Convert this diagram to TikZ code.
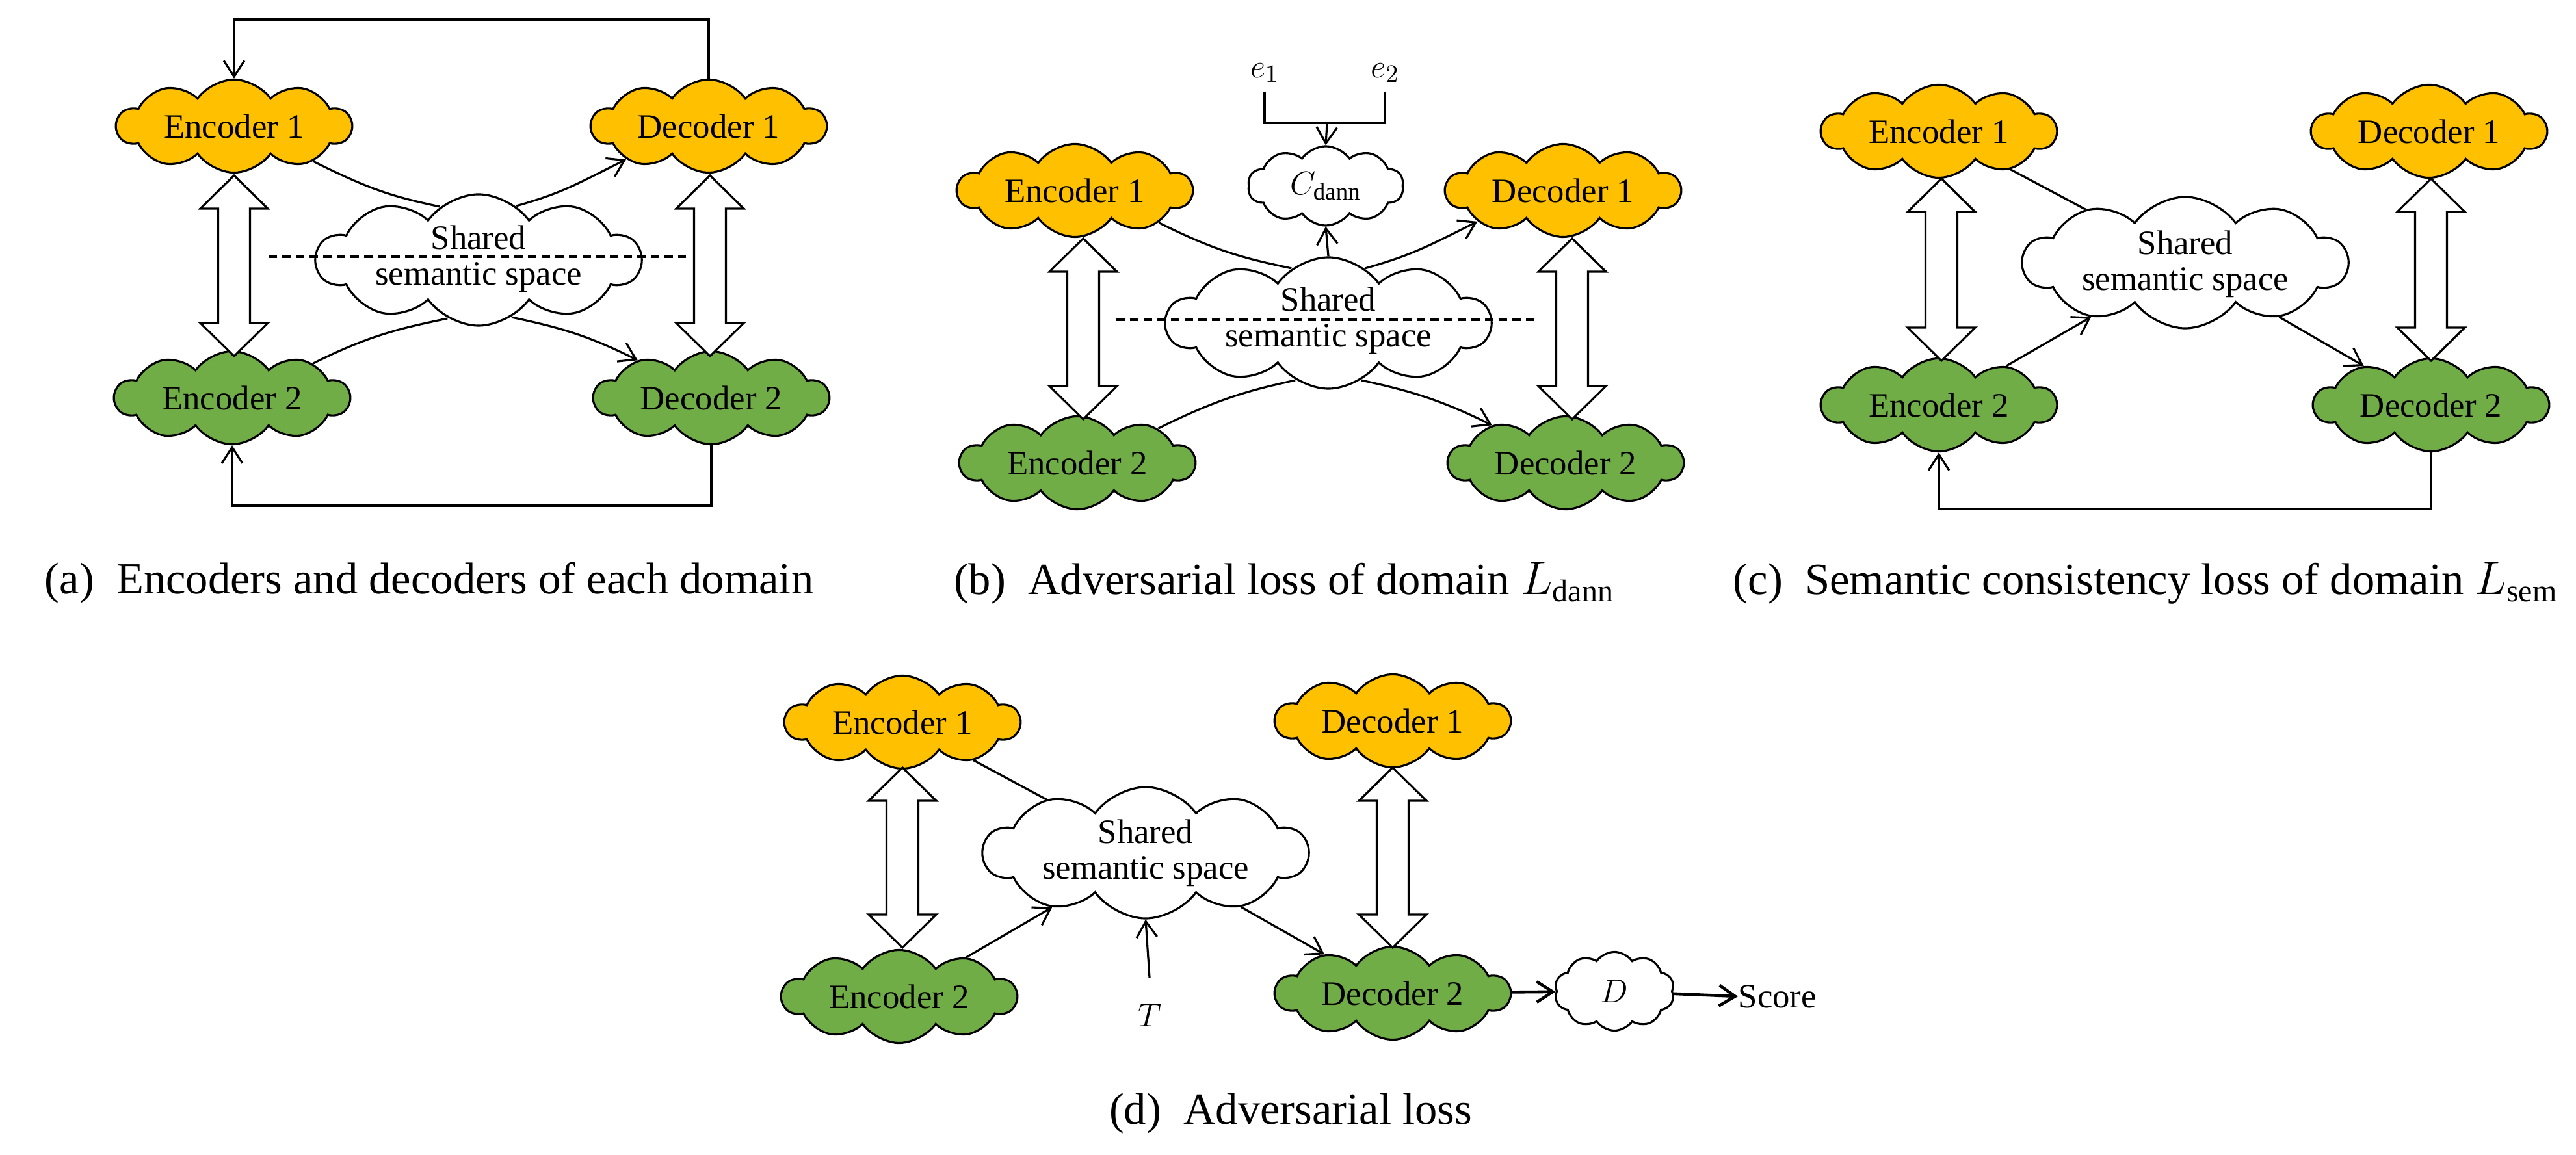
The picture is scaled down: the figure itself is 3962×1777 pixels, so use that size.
\documentclass[tikz,border=0pt]{standalone}
\usepackage{fontspec}
\setmainfont{Liberation Serif}
\usetikzlibrary{shapes.symbols,arrows.meta}
\definecolor{orgc}{HTML}{FFC000}
\definecolor{grnc}{HTML}{70AD47}
\newcommand{\dblarr}[3]{\draw[line width=0.9pt,fill=white] (#1-24.5,#2+51) -- (#1-52,#2+51) -- (#1,#2) -- (#1+52,#2+51) -- (#1+24.5,#2+51) -- (#1+24.5,#3-51) -- (#1+52,#3-51) -- (#1,#3) -- (#1-52,#3-51) -- (#1-24.5,#3-51) -- cycle;}
\begin{document}
\begin{tikzpicture}[x=0.01cm,y=-0.01cm,
  cl/.style={cloud, cloud puffs=10, cloud puff arc=110, cloud ignores aspect, draw, line width=0.9pt, inner sep=0pt},
  enc/.style={cl, fill=orgc, minimum width=3.6cm, minimum height=1.43cm},
  gen/.style={cl, fill=grnc, minimum width=3.6cm, minimum height=1.43cm},
  sh/.style={cl, fill=white, minimum width=4.98cm, minimum height=2.02cm},
  lab/.style={font=\fontsize{15}{18}\selectfont, align=center},
  ln/.style={line width=0.9pt},
  ar/.style={line width=0.9pt, -{Straight Barb[length=7pt,width=9pt]}},
  dsh/.style={line width=0.9pt, dash pattern=on 0.13cm off 0.08cm},
  capt/.style={font=\fontsize{19.5}{22}\selectfont, inner sep=0pt}]
\useasboundingbox (0,0) rectangle (3962,1777);
% ---------------- (a)
\node[enc] (a1) at (360,194) {};
\node[enc] (a2) at (1090,194) {};
\node[gen] (a3) at (357,612) {};
\node[gen] (a4) at (1094,612) {};
\node[sh] (as) at (736,400) {};
\node[lab] at (a1) {Encoder 1};
\node[lab] at (a2) {Decoder 1};
\node[lab] at (a3) {Encoder 2};
\node[lab] at (a4) {Decoder 2};
\node[lab] at (736,365) {Shared};
\node[lab] at (736,427) {semantic space};
\draw[dsh] (413,395) -- (1055,395);
\draw[ln] (a1.-24) .. controls +(90,45) and +(-70,-15) .. (as.126);
\draw[ar] (as.55) .. controls +(70,-20) and +(-80,40) .. (a2.202);
\draw[ln] (a3.23) .. controls +(90,-45) and +(-70,15) .. (as.-118);
\draw[ar] (as.-60) .. controls +(70,15) and +(-80,-40) .. (a4.153);
\coordinate (at) at (700,30);
\coordinate (ab) at (700,778);
\draw[ar] (a2.north) |- (at) -| (a1.north);
\draw[ar] (a4.south) |- (ab) -| (a3.south);
\dblarr{360}{270}{548}
\dblarr{1092}{270}{548}
\node[capt] (capa) at (660,897) {(a)\ \ Encoders and decoders of each domain};
% ---------------- (b)
\node[enc] (b1) at (1653,293) {};
\node[enc] (b2) at (2404,293) {};
\node[gen] (b3) at (1657,712) {};
\node[gen] (b4) at (2408,712) {};
\node[sh] (bs) at (2043,497) {};
\node[cl, fill=white, minimum width=2.39cm, minimum height=1.22cm] (bc) at (2039,286) {};
\node[lab] at (b1) {Encoder 1};
\node[lab] at (b2) {Decoder 1};
\node[lab] at (b3) {Encoder 2};
\node[lab] at (b4) {Decoder 2};
\node[lab] at (bc) {$C_{\mathrm{dann}}$};
\node[lab] at (2043,460) {Shared};
\node[lab] at (2043,522) {semantic space};
\draw[dsh] (1717,492) -- (2362,492);
\draw[ln] (b1.-21) .. controls +(90,45) and +(-70,-15) .. (bs.124);
\draw[ar] (bs.56) .. controls +(70,-20) and +(-80,40) .. (b2.200);
\draw[ln] (b3.23) .. controls +(90,-45) and +(-70,15) .. (bs.-120);
\draw[ar] (bs.-60) .. controls +(70,15) and +(-80,-40) .. (b4.153);
\draw[ar] (bs.north) -- (bc.south);
\node[lab, inner sep=0pt] (e1) at (1945,112) {$e_1$};
\node[lab, inner sep=0pt] (e2) at (2130,112) {$e_2$};
\coordinate (bm) at (2041,189);
\draw[ln] ([yshift=-0.15cm]e1.south) |- (bm) -| ([yshift=-0.15cm]e2.south);
\draw[ar] (bm) -- (bc.north);
\dblarr{1666}{367}{645}
\dblarr{2418}{367}{645}
\node[capt] (capb) at (1975,897) {(b)\ \ Adversarial loss of domain $L_{\mathrm{dann}}$};
% ---------------- (c)
\node[enc] (c1) at (2982,202) {};
\node[enc] (c2) at (3736,202) {};
\node[gen] (c3) at (2982,623) {};
\node[gen] (c4) at (3739,623) {};
\node[sh] (cs) at (3361,404) {};
\node[lab] at (c1) {Encoder 1};
\node[lab] at (c2) {Decoder 1};
\node[lab] at (c3) {Encoder 2};
\node[lab] at (c4) {Decoder 2};
\node[lab] at (3361,373) {Shared};
\node[lab] at (3361,435) {semantic space};
\draw[ln] (c1) -- (cs);
\draw[ar] (c3) -- (cs);
\draw[ar] (cs) -- (c4);
\coordinate (cb) at (3360,783);
\draw[ar] (c4.south) |- (cb) -| (c3.south);
\dblarr{2986}{275}{555}
\dblarr{3739}{275}{555}
\node[capt, anchor=east] (capc) at (3935,897) {(c)\ \ Semantic consistency loss of domain $L_{\mathrm{sem}}$};
% ---------------- (d)
\node[enc] (d1) at (1388,1111) {};
\node[enc] (d2) at (2142,1109) {};
\node[gen] (d3) at (1383,1533) {};
\node[gen] (d4) at (2142,1528) {};
\node[sh] (ds) at (1762,1312) {};
\node[cl, fill=white, minimum width=1.84cm, minimum height=1.21cm] (dD) at (2483,1525) {};
\node[lab] at (d1) {Encoder 1};
\node[lab] at (d2) {Decoder 1};
\node[lab] at (d3) {Encoder 2};
\node[lab] at (d4) {Decoder 2};
\node[lab] at (dD) {$D$};
\node[lab] at (1762,1279) {Shared};
\node[lab] at (1762,1341) {semantic space};
\node[lab, inner sep=0pt] (T) at (1768,1562) {$T$};
\node[lab, inner sep=0pt, anchor=west] (sc) at (2673,1533) {Score};
\draw[ln] (d1) -- (ds);
\draw[ar] (d3) -- (ds);
\draw[ar] (ds) -- (d4);
\draw[ar] ([yshift=0.4cm]T.north) -- (ds.south);
\draw[ar, line width=1.3pt] (d4) -- (dD);
\draw[ar, line width=1.3pt] (dD) -- (sc.west);
\dblarr{1388}{1181}{1458}
\dblarr{2142}{1181}{1458}
\node[capt] (capd) at (1985,1713) {(d)\ \ Adversarial loss};
\end{tikzpicture}
\end{document}
